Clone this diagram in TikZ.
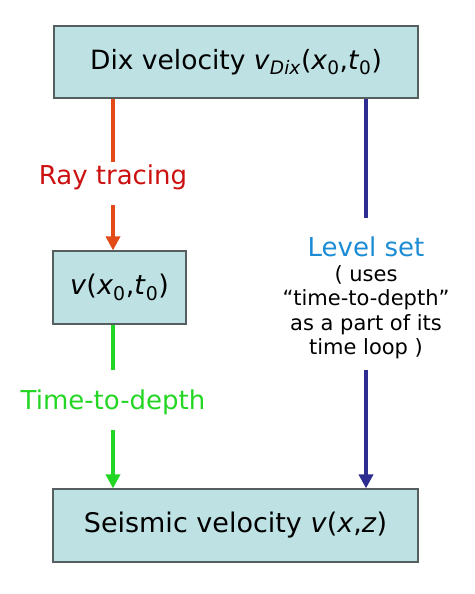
\documentclass[tikz,border=0pt]{standalone}
\usepackage{fontspec}
\setmainfont{DejaVu Sans}
\usetikzlibrary{arrows.meta}
\definecolor{boxfill}{RGB}{190,225,228}
\definecolor{boxline}{RGB}{85,95,95}
\definecolor{rayline}{RGB}{226,74,24}
\definecolor{raytext}{RGB}{204,16,16}
\definecolor{greenc}{RGB}{36,214,36}
\definecolor{blueline}{RGB}{46,46,146}
\definecolor{bluetext}{RGB}{28,140,212}
\newcommand{\sbs}[1]{\textsubscript{#1}}
\begin{document}
\begin{tikzpicture}[x=1pt,y=-1pt,
  box/.style={draw=boxline,line width=1.2pt,fill=boxfill,inner sep=0pt,font=\fontsize{27}{32}\selectfont},
  conn/.style={line width=3.8pt},
  tip/.style={-{Triangle[length=14pt,width=14pt]}},
  lbl/.style={font=\fontsize{26}{30}\selectfont,inner sep=0pt}]
\useasboundingbox (0,0) rectangle (474,594);
\node[box,minimum width=364pt,minimum height=72pt,font=\fontsize{26.5}{32}\selectfont] (top) at (236,62) {Dix velocity \textit{v}\sbs{\textit{Dix}}(\textit{x}\sbs{0},\textit{t}\sbs{0})};
\node[box,minimum width=133pt,minimum height=73pt] (mid) at (119.5,287.5) {\textit{v}(\textit{x}\sbs{0},\textit{t}\sbs{0})};
\node[box,minimum width=365pt,minimum height=73pt] (bot) at (235.5,525.5) {Seismic velocity \textit{v}(\textit{x},\textit{z})};
\node[lbl,text=raytext] (ray) at (113,177) {Ray tracing};
\node[lbl,text=greenc] (ttd) at (113,402) {Time-to-depth};
\node[lbl,text=bluetext] (lvl) at (366,247) {Level set};
\node[inner sep=0pt,align=center,font=\fontsize{21}{24.5}\selectfont] (lvlnote) at (366,312) {( uses\\``time-to-depth''\\as a part of its\\time loop )};
\coordinate (r1) at (113,162);
\coordinate (r2) at (113,205);
\coordinate (g1) at (113,370);
\coordinate (g2) at (113,430);
\coordinate (b1) at (366,218);
\coordinate (b2) at (366,370);
\draw[conn,rayline] (top.south -| r1) -- (r1);
\draw[conn,rayline,tip] (r2) -- (r2 |- mid.north);
\draw[conn,greenc] (mid.south -| g1) -- (g1);
\draw[conn,greenc,tip] (g2) -- (g2 |- bot.north);
\draw[conn,blueline] (top.south -| b1) -- (b1);
\draw[conn,blueline,tip] (b2) -- (b2 |- bot.north);
\end{tikzpicture}
\end{document}
